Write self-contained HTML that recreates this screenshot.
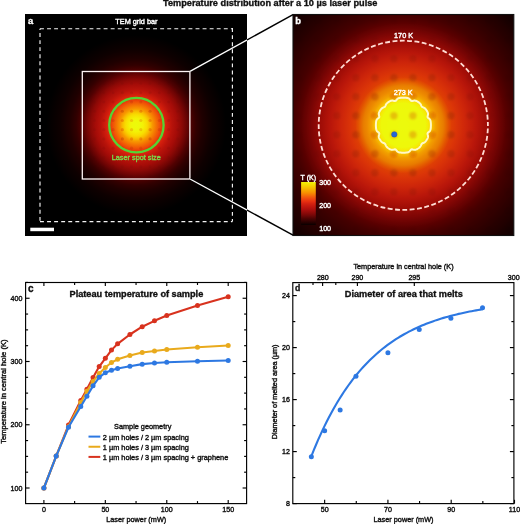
<!DOCTYPE html>
<html><head><meta charset="utf-8"><style>
html,body{margin:0;padding:0;background:#fff;overflow:hidden}
svg{display:block}
text{font-family:"Liberation Sans",Arial,Helvetica,sans-serif;stroke-width:0.38px}
.b{stroke-width:0.34px}

.b{font-weight:bold}
</style></head><body>
<svg width="520" height="524" viewBox="0 0 520 524" fill="#111">
<defs><radialGradient id="ga" gradientUnits="userSpaceOnUse" cx="136.2" cy="125.1" r="90"><stop offset="0.0000" stop-color="#ecfa0c"/><stop offset="0.0111" stop-color="#ecfa0b"/><stop offset="0.0222" stop-color="#edf90a"/><stop offset="0.0333" stop-color="#eef80a"/><stop offset="0.0444" stop-color="#eef809"/><stop offset="0.0556" stop-color="#f0f508"/><stop offset="0.0667" stop-color="#f2f307"/><stop offset="0.0778" stop-color="#f4f006"/><stop offset="0.0889" stop-color="#f5ea04"/><stop offset="0.1000" stop-color="#f6e503"/><stop offset="0.1111" stop-color="#f7e002"/><stop offset="0.1222" stop-color="#f8da00"/><stop offset="0.1333" stop-color="#f8cf00"/><stop offset="0.1444" stop-color="#f8c400"/><stop offset="0.1556" stop-color="#f8b900"/><stop offset="0.1667" stop-color="#f8aa00"/><stop offset="0.1778" stop-color="#f79b00"/><stop offset="0.1889" stop-color="#f69100"/><stop offset="0.2000" stop-color="#f68701"/><stop offset="0.2111" stop-color="#f57d02"/><stop offset="0.2222" stop-color="#f47302"/><stop offset="0.2333" stop-color="#f26904"/><stop offset="0.2444" stop-color="#f15f05"/><stop offset="0.2556" stop-color="#f05506"/><stop offset="0.2667" stop-color="#ee4b08"/><stop offset="0.2778" stop-color="#ea4209"/><stop offset="0.2889" stop-color="#e63909"/><stop offset="0.3000" stop-color="#e2300a"/><stop offset="0.3111" stop-color="#de2b0a"/><stop offset="0.3222" stop-color="#d9260b"/><stop offset="0.3333" stop-color="#d4210c"/><stop offset="0.3444" stop-color="#d01c0c"/><stop offset="0.3556" stop-color="#cb1a0c"/><stop offset="0.3667" stop-color="#c6180b"/><stop offset="0.3778" stop-color="#c0160b"/><stop offset="0.3889" stop-color="#bb140a"/><stop offset="0.4000" stop-color="#b6120a"/><stop offset="0.4111" stop-color="#b2110a"/><stop offset="0.4222" stop-color="#af1009"/><stop offset="0.4333" stop-color="#ab0e09"/><stop offset="0.4444" stop-color="#a80d08"/><stop offset="0.4556" stop-color="#a40c08"/><stop offset="0.4667" stop-color="#9e0b07"/><stop offset="0.4778" stop-color="#990a07"/><stop offset="0.4889" stop-color="#930a06"/><stop offset="0.5000" stop-color="#8e0906"/><stop offset="0.5111" stop-color="#880805"/><stop offset="0.5222" stop-color="#810705"/><stop offset="0.5333" stop-color="#7a0604"/><stop offset="0.5444" stop-color="#740504"/><stop offset="0.5556" stop-color="#6d0403"/><stop offset="0.5667" stop-color="#660303"/><stop offset="0.5778" stop-color="#5f0202"/><stop offset="0.5889" stop-color="#570202"/><stop offset="0.6000" stop-color="#500101"/><stop offset="0.6111" stop-color="#4b0101"/><stop offset="0.6222" stop-color="#460101"/><stop offset="0.6333" stop-color="#410000"/><stop offset="0.6444" stop-color="#3c0000"/><stop offset="0.6556" stop-color="#370000"/><stop offset="0.6667" stop-color="#320000"/><stop offset="0.6778" stop-color="#2f0000"/><stop offset="0.6889" stop-color="#2c0000"/><stop offset="0.7000" stop-color="#290000"/><stop offset="0.7111" stop-color="#260000"/><stop offset="0.7222" stop-color="#230000"/><stop offset="0.7333" stop-color="#200000"/><stop offset="0.7444" stop-color="#1e0000"/><stop offset="0.7556" stop-color="#1c0000"/><stop offset="0.7667" stop-color="#1b0000"/><stop offset="0.7778" stop-color="#190000"/><stop offset="0.7889" stop-color="#170000"/><stop offset="0.8000" stop-color="#150000"/><stop offset="0.8111" stop-color="#130000"/><stop offset="0.8222" stop-color="#120000"/><stop offset="0.8333" stop-color="#100000"/><stop offset="0.8444" stop-color="#0e0000"/><stop offset="0.8556" stop-color="#0d0000"/><stop offset="0.8667" stop-color="#0c0000"/><stop offset="0.8778" stop-color="#0b0000"/><stop offset="0.8889" stop-color="#0a0000"/><stop offset="0.9000" stop-color="#090000"/><stop offset="0.9111" stop-color="#080000"/><stop offset="0.9222" stop-color="#070000"/><stop offset="0.9333" stop-color="#060000"/><stop offset="0.9444" stop-color="#050000"/><stop offset="0.9556" stop-color="#040000"/><stop offset="0.9667" stop-color="#030000"/><stop offset="0.9778" stop-color="#020000"/><stop offset="0.9889" stop-color="#010000"/><stop offset="1.0000" stop-color="#000000"/></radialGradient><radialGradient id="gb" gradientUnits="userSpaceOnUse" cx="403.4" cy="125.2" r="170"><stop offset="0.0000" stop-color="#ecfa0c"/><stop offset="0.0059" stop-color="#ecfa0c"/><stop offset="0.0118" stop-color="#ecfa0c"/><stop offset="0.0176" stop-color="#ecfa0c"/><stop offset="0.0235" stop-color="#ecfa0c"/><stop offset="0.0294" stop-color="#ecfa0c"/><stop offset="0.0353" stop-color="#edf90b"/><stop offset="0.0412" stop-color="#edf90b"/><stop offset="0.0471" stop-color="#edf90b"/><stop offset="0.0529" stop-color="#edf90b"/><stop offset="0.0588" stop-color="#edf90b"/><stop offset="0.0647" stop-color="#edf90b"/><stop offset="0.0706" stop-color="#edf90b"/><stop offset="0.0765" stop-color="#edf90b"/><stop offset="0.0824" stop-color="#edf90b"/><stop offset="0.0882" stop-color="#edf90b"/><stop offset="0.0941" stop-color="#edf90b"/><stop offset="0.1000" stop-color="#eef80a"/><stop offset="0.1059" stop-color="#eef80a"/><stop offset="0.1118" stop-color="#eef80a"/><stop offset="0.1176" stop-color="#eef80a"/><stop offset="0.1235" stop-color="#eef80a"/><stop offset="0.1294" stop-color="#eef80a"/><stop offset="0.1353" stop-color="#f0f308"/><stop offset="0.1412" stop-color="#f3ef07"/><stop offset="0.1471" stop-color="#f5ea05"/><stop offset="0.1529" stop-color="#f6e203"/><stop offset="0.1588" stop-color="#f7d502"/><stop offset="0.1647" stop-color="#f8c800"/><stop offset="0.1706" stop-color="#f6be00"/><stop offset="0.1765" stop-color="#f5b500"/><stop offset="0.1824" stop-color="#f4ac00"/><stop offset="0.1882" stop-color="#f2a200"/><stop offset="0.1941" stop-color="#f19c00"/><stop offset="0.2000" stop-color="#f09700"/><stop offset="0.2059" stop-color="#ef9200"/><stop offset="0.2118" stop-color="#ee8c00"/><stop offset="0.2176" stop-color="#ec8800"/><stop offset="0.2235" stop-color="#eb8400"/><stop offset="0.2294" stop-color="#ea8000"/><stop offset="0.2353" stop-color="#e87c00"/><stop offset="0.2412" stop-color="#e77400"/><stop offset="0.2471" stop-color="#e66c00"/><stop offset="0.2529" stop-color="#e56400"/><stop offset="0.2588" stop-color="#e45c00"/><stop offset="0.2647" stop-color="#e25401"/><stop offset="0.2706" stop-color="#e14d02"/><stop offset="0.2765" stop-color="#e04603"/><stop offset="0.2824" stop-color="#de3e04"/><stop offset="0.2882" stop-color="#dd3c05"/><stop offset="0.2941" stop-color="#dc3a06"/><stop offset="0.3000" stop-color="#dc3806"/><stop offset="0.3059" stop-color="#db3607"/><stop offset="0.3118" stop-color="#da3408"/><stop offset="0.3176" stop-color="#d93208"/><stop offset="0.3235" stop-color="#d73108"/><stop offset="0.3294" stop-color="#d62f09"/><stop offset="0.3353" stop-color="#d42e09"/><stop offset="0.3412" stop-color="#d32c09"/><stop offset="0.3471" stop-color="#d22a09"/><stop offset="0.3529" stop-color="#d02909"/><stop offset="0.3588" stop-color="#cf270a"/><stop offset="0.3647" stop-color="#cd260a"/><stop offset="0.3706" stop-color="#cc240a"/><stop offset="0.3765" stop-color="#ca230a"/><stop offset="0.3824" stop-color="#c8210a"/><stop offset="0.3882" stop-color="#c6200a"/><stop offset="0.3941" stop-color="#c41e0a"/><stop offset="0.4000" stop-color="#c21d0a"/><stop offset="0.4059" stop-color="#c01c0a"/><stop offset="0.4118" stop-color="#be1a0a"/><stop offset="0.4176" stop-color="#bc190a"/><stop offset="0.4235" stop-color="#ba170a"/><stop offset="0.4294" stop-color="#b8160a"/><stop offset="0.4353" stop-color="#b5150a"/><stop offset="0.4412" stop-color="#b31409"/><stop offset="0.4471" stop-color="#b01309"/><stop offset="0.4529" stop-color="#ae1208"/><stop offset="0.4588" stop-color="#ab1108"/><stop offset="0.4647" stop-color="#a81008"/><stop offset="0.4706" stop-color="#a60f07"/><stop offset="0.4765" stop-color="#a30e07"/><stop offset="0.4824" stop-color="#a10d06"/><stop offset="0.4882" stop-color="#9e0c06"/><stop offset="0.4941" stop-color="#9a0b06"/><stop offset="0.5000" stop-color="#970b06"/><stop offset="0.5059" stop-color="#930a05"/><stop offset="0.5118" stop-color="#900905"/><stop offset="0.5176" stop-color="#8c0805"/><stop offset="0.5235" stop-color="#880805"/><stop offset="0.5294" stop-color="#850705"/><stop offset="0.5353" stop-color="#810604"/><stop offset="0.5412" stop-color="#7e0604"/><stop offset="0.5471" stop-color="#7a0504"/><stop offset="0.5529" stop-color="#770404"/><stop offset="0.5588" stop-color="#730403"/><stop offset="0.5647" stop-color="#700403"/><stop offset="0.5706" stop-color="#6c0302"/><stop offset="0.5765" stop-color="#690202"/><stop offset="0.5824" stop-color="#660202"/><stop offset="0.5882" stop-color="#620201"/><stop offset="0.5941" stop-color="#5f0101"/><stop offset="0.6000" stop-color="#5b0000"/><stop offset="0.6059" stop-color="#580000"/><stop offset="0.6118" stop-color="#550000"/><stop offset="0.6176" stop-color="#530000"/><stop offset="0.6235" stop-color="#500000"/><stop offset="0.6294" stop-color="#4e0000"/><stop offset="0.6353" stop-color="#4b0000"/><stop offset="0.6412" stop-color="#490000"/><stop offset="0.6471" stop-color="#460000"/><stop offset="0.6529" stop-color="#450000"/><stop offset="0.6588" stop-color="#430000"/><stop offset="0.6647" stop-color="#420000"/><stop offset="0.6706" stop-color="#400000"/><stop offset="0.6765" stop-color="#3f0000"/><stop offset="0.6824" stop-color="#3e0000"/><stop offset="0.6882" stop-color="#3c0000"/><stop offset="0.6941" stop-color="#3b0000"/><stop offset="0.7000" stop-color="#390000"/><stop offset="0.7059" stop-color="#380000"/><stop offset="0.7118" stop-color="#370000"/><stop offset="0.7176" stop-color="#360000"/><stop offset="0.7235" stop-color="#340000"/><stop offset="0.7294" stop-color="#330000"/><stop offset="0.7353" stop-color="#320000"/><stop offset="0.7412" stop-color="#310000"/><stop offset="0.7471" stop-color="#300000"/><stop offset="0.7529" stop-color="#2e0000"/><stop offset="0.7588" stop-color="#2d0000"/><stop offset="0.7647" stop-color="#2c0000"/><stop offset="0.7706" stop-color="#2b0000"/><stop offset="0.7765" stop-color="#2a0000"/><stop offset="0.7824" stop-color="#280000"/><stop offset="0.7882" stop-color="#270000"/><stop offset="0.7941" stop-color="#260000"/><stop offset="0.8000" stop-color="#250000"/><stop offset="0.8059" stop-color="#240000"/><stop offset="0.8118" stop-color="#230000"/><stop offset="0.8176" stop-color="#220000"/><stop offset="0.8235" stop-color="#210000"/><stop offset="0.8294" stop-color="#200000"/><stop offset="0.8353" stop-color="#1f0000"/><stop offset="0.8412" stop-color="#1d0000"/><stop offset="0.8471" stop-color="#1c0000"/><stop offset="0.8529" stop-color="#1b0000"/><stop offset="0.8588" stop-color="#1a0000"/><stop offset="0.8647" stop-color="#190000"/><stop offset="0.8706" stop-color="#180000"/><stop offset="0.8765" stop-color="#170000"/><stop offset="0.8824" stop-color="#160000"/><stop offset="0.8882" stop-color="#150000"/><stop offset="0.8941" stop-color="#150000"/><stop offset="0.9000" stop-color="#140000"/><stop offset="0.9059" stop-color="#140000"/><stop offset="0.9118" stop-color="#130000"/><stop offset="0.9176" stop-color="#120000"/><stop offset="0.9235" stop-color="#120000"/><stop offset="0.9294" stop-color="#110000"/><stop offset="0.9353" stop-color="#110000"/><stop offset="0.9412" stop-color="#100000"/><stop offset="0.9471" stop-color="#0f0000"/><stop offset="0.9529" stop-color="#0f0000"/><stop offset="0.9588" stop-color="#0e0000"/><stop offset="0.9647" stop-color="#0e0000"/><stop offset="0.9706" stop-color="#0d0000"/><stop offset="0.9765" stop-color="#0c0000"/><stop offset="0.9824" stop-color="#0c0000"/><stop offset="0.9882" stop-color="#0b0000"/><stop offset="0.9941" stop-color="#0b0000"/><stop offset="1.0000" stop-color="#0a0000"/></radialGradient><linearGradient id="gcb" x1="0" y1="0" x2="0" y2="1"><stop offset="0.000" stop-color="#f0f505"/><stop offset="0.050" stop-color="#f6e100"/><stop offset="0.100" stop-color="#f7cd00"/><stop offset="0.150" stop-color="#f8b900"/><stop offset="0.200" stop-color="#f8a400"/><stop offset="0.250" stop-color="#f89000"/><stop offset="0.300" stop-color="#f67506"/><stop offset="0.350" stop-color="#f35b0c"/><stop offset="0.400" stop-color="#ee440f"/><stop offset="0.450" stop-color="#e83010"/><stop offset="0.500" stop-color="#d62310"/><stop offset="0.550" stop-color="#c71a0f"/><stop offset="0.600" stop-color="#b9130e"/><stop offset="0.650" stop-color="#a80e0d"/><stop offset="0.700" stop-color="#940b0a"/><stop offset="0.750" stop-color="#800808"/><stop offset="0.800" stop-color="#670606"/><stop offset="0.850" stop-color="#4e0303"/><stop offset="0.900" stop-color="#380202"/><stop offset="0.950" stop-color="#220000"/><stop offset="1.000" stop-color="#080000"/></linearGradient><filter id="bla" x="-50%" y="-50%" width="200%" height="200%"><feGaussianBlur stdDeviation="0.6"/></filter><filter id="blb" x="-50%" y="-50%" width="200%" height="200%"><feGaussianBlur stdDeviation="1.3"/></filter><clipPath id="cpa"><rect x="25" y="14" width="222" height="222"/></clipPath><clipPath id="cpb"><rect x="293" y="14.5" width="220.8" height="221"/></clipPath></defs>
<text x="163" y="6.4" class="b" font-size="9.2" stroke="#111">Temperature distribution after a 10 µs laser pulse</text>
<rect x="25" y="14" width="222" height="222" fill="#000"/>
<circle cx="136.2" cy="125.1" r="90" fill="url(#ga)" clip-path="url(#cpa)"/>
<g filter="url(#bla)"><circle cx="66.88" cy="120.48" r="1.6" fill="#000" fill-opacity="0.022"/><circle cx="66.88" cy="129.72" r="1.6" fill="#000" fill-opacity="0.022"/><circle cx="76.12" cy="92.75" r="1.6" fill="#000" fill-opacity="0.022"/><circle cx="76.12" cy="101.99" r="1.6" fill="#000" fill-opacity="0.022"/><circle cx="76.12" cy="111.24" r="1.6" fill="#000" fill-opacity="0.022"/><circle cx="76.12" cy="120.48" r="1.6" fill="#000" fill-opacity="0.022"/><circle cx="76.12" cy="129.72" r="1.6" fill="#000" fill-opacity="0.022"/><circle cx="76.12" cy="138.96" r="1.6" fill="#000" fill-opacity="0.022"/><circle cx="76.12" cy="148.21" r="1.6" fill="#000" fill-opacity="0.022"/><circle cx="76.12" cy="157.45" r="1.6" fill="#000" fill-opacity="0.022"/><circle cx="85.36" cy="83.51" r="1.6" fill="#000" fill-opacity="0.022"/><circle cx="85.36" cy="92.75" r="1.6" fill="#000" fill-opacity="0.022"/><circle cx="85.36" cy="101.99" r="1.6" fill="#000" fill-opacity="0.022"/><circle cx="85.36" cy="111.24" r="1.6" fill="#000" fill-opacity="0.022"/><circle cx="85.36" cy="120.48" r="1.6" fill="#000" fill-opacity="0.022"/><circle cx="85.36" cy="129.72" r="1.6" fill="#000" fill-opacity="0.022"/><circle cx="85.36" cy="138.96" r="1.6" fill="#000" fill-opacity="0.022"/><circle cx="85.36" cy="148.21" r="1.6" fill="#000" fill-opacity="0.022"/><circle cx="85.36" cy="157.45" r="1.6" fill="#000" fill-opacity="0.022"/><circle cx="85.36" cy="166.69" r="1.6" fill="#000" fill-opacity="0.022"/><circle cx="94.61" cy="74.26" r="1.6" fill="#000" fill-opacity="0.022"/><circle cx="94.61" cy="83.51" r="1.6" fill="#000" fill-opacity="0.022"/><circle cx="94.61" cy="92.75" r="1.6" fill="#000" fill-opacity="0.022"/><circle cx="94.61" cy="101.99" r="1.6" fill="#000" fill-opacity="0.027"/><circle cx="94.61" cy="111.24" r="1.6" fill="#000" fill-opacity="0.040"/><circle cx="94.61" cy="120.48" r="1.6" fill="#000" fill-opacity="0.045"/><circle cx="94.61" cy="129.72" r="1.6" fill="#000" fill-opacity="0.045"/><circle cx="94.61" cy="138.96" r="1.6" fill="#000" fill-opacity="0.040"/><circle cx="94.61" cy="148.21" r="1.6" fill="#000" fill-opacity="0.027"/><circle cx="94.61" cy="157.45" r="1.6" fill="#000" fill-opacity="0.022"/><circle cx="94.61" cy="166.69" r="1.6" fill="#000" fill-opacity="0.022"/><circle cx="94.61" cy="175.94" r="1.6" fill="#000" fill-opacity="0.022"/><circle cx="103.85" cy="65.02" r="1.6" fill="#000" fill-opacity="0.022"/><circle cx="103.85" cy="74.26" r="1.6" fill="#000" fill-opacity="0.022"/><circle cx="103.85" cy="83.51" r="1.6" fill="#000" fill-opacity="0.022"/><circle cx="103.85" cy="92.75" r="1.6" fill="#000" fill-opacity="0.034"/><circle cx="103.85" cy="101.99" r="1.6" fill="#000" fill-opacity="0.050"/><circle cx="103.85" cy="111.24" r="1.6" fill="#000" fill-opacity="0.062"/><circle cx="103.85" cy="120.48" r="1.6" fill="#000" fill-opacity="0.069"/><circle cx="103.85" cy="129.72" r="1.6" fill="#000" fill-opacity="0.069"/><circle cx="103.85" cy="138.96" r="1.6" fill="#000" fill-opacity="0.062"/><circle cx="103.85" cy="148.21" r="1.6" fill="#000" fill-opacity="0.050"/><circle cx="103.85" cy="157.45" r="1.6" fill="#000" fill-opacity="0.034"/><circle cx="103.85" cy="166.69" r="1.6" fill="#000" fill-opacity="0.022"/><circle cx="103.85" cy="175.94" r="1.6" fill="#000" fill-opacity="0.022"/><circle cx="103.85" cy="185.18" r="1.6" fill="#000" fill-opacity="0.022"/><circle cx="113.09" cy="65.02" r="1.6" fill="#000" fill-opacity="0.022"/><circle cx="113.09" cy="74.26" r="1.6" fill="#000" fill-opacity="0.022"/><circle cx="113.09" cy="83.51" r="1.6" fill="#000" fill-opacity="0.027"/><circle cx="113.09" cy="92.75" r="1.6" fill="#000" fill-opacity="0.050"/><circle cx="113.09" cy="101.99" r="1.6" fill="#000" fill-opacity="0.069"/><circle cx="113.09" cy="111.24" r="1.6" fill="#000" fill-opacity="0.090"/><circle cx="113.09" cy="120.48" r="1.6" fill="#800000" fill-opacity="0.132"/><circle cx="113.09" cy="129.72" r="1.6" fill="#800000" fill-opacity="0.132"/><circle cx="113.09" cy="138.96" r="1.6" fill="#000" fill-opacity="0.090"/><circle cx="113.09" cy="148.21" r="1.6" fill="#000" fill-opacity="0.069"/><circle cx="113.09" cy="157.45" r="1.6" fill="#000" fill-opacity="0.050"/><circle cx="113.09" cy="166.69" r="1.6" fill="#000" fill-opacity="0.027"/><circle cx="113.09" cy="175.94" r="1.6" fill="#000" fill-opacity="0.022"/><circle cx="113.09" cy="185.18" r="1.6" fill="#000" fill-opacity="0.022"/><circle cx="122.34" cy="65.02" r="1.6" fill="#000" fill-opacity="0.022"/><circle cx="122.34" cy="74.26" r="1.6" fill="#000" fill-opacity="0.022"/><circle cx="122.34" cy="83.51" r="1.6" fill="#000" fill-opacity="0.040"/><circle cx="122.34" cy="92.75" r="1.6" fill="#000" fill-opacity="0.062"/><circle cx="122.34" cy="101.99" r="1.6" fill="#000" fill-opacity="0.090"/><circle cx="122.34" cy="111.24" r="1.6" fill="#800000" fill-opacity="0.212"/><circle cx="122.34" cy="120.48" r="1.6" fill="#c81800" fill-opacity="0.225"/><circle cx="122.34" cy="129.72" r="1.6" fill="#c81800" fill-opacity="0.225"/><circle cx="122.34" cy="138.96" r="1.6" fill="#800000" fill-opacity="0.212"/><circle cx="122.34" cy="148.21" r="1.6" fill="#000" fill-opacity="0.090"/><circle cx="122.34" cy="157.45" r="1.6" fill="#000" fill-opacity="0.062"/><circle cx="122.34" cy="166.69" r="1.6" fill="#000" fill-opacity="0.040"/><circle cx="122.34" cy="175.94" r="1.6" fill="#000" fill-opacity="0.022"/><circle cx="122.34" cy="185.18" r="1.6" fill="#000" fill-opacity="0.022"/><circle cx="131.58" cy="55.78" r="1.6" fill="#000" fill-opacity="0.022"/><circle cx="131.58" cy="65.02" r="1.6" fill="#000" fill-opacity="0.022"/><circle cx="131.58" cy="74.26" r="1.6" fill="#000" fill-opacity="0.022"/><circle cx="131.58" cy="83.51" r="1.6" fill="#000" fill-opacity="0.045"/><circle cx="131.58" cy="92.75" r="1.6" fill="#000" fill-opacity="0.069"/><circle cx="131.58" cy="101.99" r="1.6" fill="#800000" fill-opacity="0.132"/><circle cx="131.58" cy="111.24" r="1.6" fill="#c81800" fill-opacity="0.225"/><circle cx="131.58" cy="120.48" r="1.6" fill="#c81800" fill-opacity="0.169"/><circle cx="131.58" cy="129.72" r="1.6" fill="#c81800" fill-opacity="0.169"/><circle cx="131.58" cy="138.96" r="1.6" fill="#c81800" fill-opacity="0.225"/><circle cx="131.58" cy="148.21" r="1.6" fill="#800000" fill-opacity="0.132"/><circle cx="131.58" cy="157.45" r="1.6" fill="#000" fill-opacity="0.069"/><circle cx="131.58" cy="166.69" r="1.6" fill="#000" fill-opacity="0.045"/><circle cx="131.58" cy="175.94" r="1.6" fill="#000" fill-opacity="0.022"/><circle cx="131.58" cy="185.18" r="1.6" fill="#000" fill-opacity="0.022"/><circle cx="131.58" cy="194.42" r="1.6" fill="#000" fill-opacity="0.022"/><circle cx="140.82" cy="55.78" r="1.6" fill="#000" fill-opacity="0.022"/><circle cx="140.82" cy="65.02" r="1.6" fill="#000" fill-opacity="0.022"/><circle cx="140.82" cy="74.26" r="1.6" fill="#000" fill-opacity="0.022"/><circle cx="140.82" cy="83.51" r="1.6" fill="#000" fill-opacity="0.045"/><circle cx="140.82" cy="92.75" r="1.6" fill="#000" fill-opacity="0.069"/><circle cx="140.82" cy="101.99" r="1.6" fill="#800000" fill-opacity="0.132"/><circle cx="140.82" cy="111.24" r="1.6" fill="#c81800" fill-opacity="0.225"/><circle cx="140.82" cy="120.48" r="1.6" fill="#c81800" fill-opacity="0.169"/><circle cx="140.82" cy="129.72" r="1.6" fill="#c81800" fill-opacity="0.169"/><circle cx="140.82" cy="138.96" r="1.6" fill="#c81800" fill-opacity="0.225"/><circle cx="140.82" cy="148.21" r="1.6" fill="#800000" fill-opacity="0.132"/><circle cx="140.82" cy="157.45" r="1.6" fill="#000" fill-opacity="0.069"/><circle cx="140.82" cy="166.69" r="1.6" fill="#000" fill-opacity="0.045"/><circle cx="140.82" cy="175.94" r="1.6" fill="#000" fill-opacity="0.022"/><circle cx="140.82" cy="185.18" r="1.6" fill="#000" fill-opacity="0.022"/><circle cx="140.82" cy="194.42" r="1.6" fill="#000" fill-opacity="0.022"/><circle cx="150.06" cy="65.02" r="1.6" fill="#000" fill-opacity="0.022"/><circle cx="150.06" cy="74.26" r="1.6" fill="#000" fill-opacity="0.022"/><circle cx="150.06" cy="83.51" r="1.6" fill="#000" fill-opacity="0.040"/><circle cx="150.06" cy="92.75" r="1.6" fill="#000" fill-opacity="0.062"/><circle cx="150.06" cy="101.99" r="1.6" fill="#000" fill-opacity="0.090"/><circle cx="150.06" cy="111.24" r="1.6" fill="#800000" fill-opacity="0.212"/><circle cx="150.06" cy="120.48" r="1.6" fill="#c81800" fill-opacity="0.225"/><circle cx="150.06" cy="129.72" r="1.6" fill="#c81800" fill-opacity="0.225"/><circle cx="150.06" cy="138.96" r="1.6" fill="#800000" fill-opacity="0.212"/><circle cx="150.06" cy="148.21" r="1.6" fill="#000" fill-opacity="0.090"/><circle cx="150.06" cy="157.45" r="1.6" fill="#000" fill-opacity="0.062"/><circle cx="150.06" cy="166.69" r="1.6" fill="#000" fill-opacity="0.040"/><circle cx="150.06" cy="175.94" r="1.6" fill="#000" fill-opacity="0.022"/><circle cx="150.06" cy="185.18" r="1.6" fill="#000" fill-opacity="0.022"/><circle cx="159.31" cy="65.02" r="1.6" fill="#000" fill-opacity="0.022"/><circle cx="159.31" cy="74.26" r="1.6" fill="#000" fill-opacity="0.022"/><circle cx="159.31" cy="83.51" r="1.6" fill="#000" fill-opacity="0.027"/><circle cx="159.31" cy="92.75" r="1.6" fill="#000" fill-opacity="0.050"/><circle cx="159.31" cy="101.99" r="1.6" fill="#000" fill-opacity="0.069"/><circle cx="159.31" cy="111.24" r="1.6" fill="#000" fill-opacity="0.090"/><circle cx="159.31" cy="120.48" r="1.6" fill="#800000" fill-opacity="0.132"/><circle cx="159.31" cy="129.72" r="1.6" fill="#800000" fill-opacity="0.132"/><circle cx="159.31" cy="138.96" r="1.6" fill="#000" fill-opacity="0.090"/><circle cx="159.31" cy="148.21" r="1.6" fill="#000" fill-opacity="0.069"/><circle cx="159.31" cy="157.45" r="1.6" fill="#000" fill-opacity="0.050"/><circle cx="159.31" cy="166.69" r="1.6" fill="#000" fill-opacity="0.027"/><circle cx="159.31" cy="175.94" r="1.6" fill="#000" fill-opacity="0.022"/><circle cx="159.31" cy="185.18" r="1.6" fill="#000" fill-opacity="0.022"/><circle cx="168.55" cy="65.02" r="1.6" fill="#000" fill-opacity="0.022"/><circle cx="168.55" cy="74.26" r="1.6" fill="#000" fill-opacity="0.022"/><circle cx="168.55" cy="83.51" r="1.6" fill="#000" fill-opacity="0.022"/><circle cx="168.55" cy="92.75" r="1.6" fill="#000" fill-opacity="0.034"/><circle cx="168.55" cy="101.99" r="1.6" fill="#000" fill-opacity="0.050"/><circle cx="168.55" cy="111.24" r="1.6" fill="#000" fill-opacity="0.062"/><circle cx="168.55" cy="120.48" r="1.6" fill="#000" fill-opacity="0.069"/><circle cx="168.55" cy="129.72" r="1.6" fill="#000" fill-opacity="0.069"/><circle cx="168.55" cy="138.96" r="1.6" fill="#000" fill-opacity="0.062"/><circle cx="168.55" cy="148.21" r="1.6" fill="#000" fill-opacity="0.050"/><circle cx="168.55" cy="157.45" r="1.6" fill="#000" fill-opacity="0.034"/><circle cx="168.55" cy="166.69" r="1.6" fill="#000" fill-opacity="0.022"/><circle cx="168.55" cy="175.94" r="1.6" fill="#000" fill-opacity="0.022"/><circle cx="168.55" cy="185.18" r="1.6" fill="#000" fill-opacity="0.022"/><circle cx="177.79" cy="74.26" r="1.6" fill="#000" fill-opacity="0.022"/><circle cx="177.79" cy="83.51" r="1.6" fill="#000" fill-opacity="0.022"/><circle cx="177.79" cy="92.75" r="1.6" fill="#000" fill-opacity="0.022"/><circle cx="177.79" cy="101.99" r="1.6" fill="#000" fill-opacity="0.027"/><circle cx="177.79" cy="111.24" r="1.6" fill="#000" fill-opacity="0.040"/><circle cx="177.79" cy="120.48" r="1.6" fill="#000" fill-opacity="0.045"/><circle cx="177.79" cy="129.72" r="1.6" fill="#000" fill-opacity="0.045"/><circle cx="177.79" cy="138.96" r="1.6" fill="#000" fill-opacity="0.040"/><circle cx="177.79" cy="148.21" r="1.6" fill="#000" fill-opacity="0.027"/><circle cx="177.79" cy="157.45" r="1.6" fill="#000" fill-opacity="0.022"/><circle cx="177.79" cy="166.69" r="1.6" fill="#000" fill-opacity="0.022"/><circle cx="177.79" cy="175.94" r="1.6" fill="#000" fill-opacity="0.022"/><circle cx="187.04" cy="83.51" r="1.6" fill="#000" fill-opacity="0.022"/><circle cx="187.04" cy="92.75" r="1.6" fill="#000" fill-opacity="0.022"/><circle cx="187.04" cy="101.99" r="1.6" fill="#000" fill-opacity="0.022"/><circle cx="187.04" cy="111.24" r="1.6" fill="#000" fill-opacity="0.022"/><circle cx="187.04" cy="120.48" r="1.6" fill="#000" fill-opacity="0.022"/><circle cx="187.04" cy="129.72" r="1.6" fill="#000" fill-opacity="0.022"/><circle cx="187.04" cy="138.96" r="1.6" fill="#000" fill-opacity="0.022"/><circle cx="187.04" cy="148.21" r="1.6" fill="#000" fill-opacity="0.022"/><circle cx="187.04" cy="157.45" r="1.6" fill="#000" fill-opacity="0.022"/><circle cx="187.04" cy="166.69" r="1.6" fill="#000" fill-opacity="0.022"/><circle cx="196.28" cy="92.75" r="1.6" fill="#000" fill-opacity="0.022"/><circle cx="196.28" cy="101.99" r="1.6" fill="#000" fill-opacity="0.022"/><circle cx="196.28" cy="111.24" r="1.6" fill="#000" fill-opacity="0.022"/><circle cx="196.28" cy="120.48" r="1.6" fill="#000" fill-opacity="0.022"/><circle cx="196.28" cy="129.72" r="1.6" fill="#000" fill-opacity="0.022"/><circle cx="196.28" cy="138.96" r="1.6" fill="#000" fill-opacity="0.022"/><circle cx="196.28" cy="148.21" r="1.6" fill="#000" fill-opacity="0.022"/><circle cx="196.28" cy="157.45" r="1.6" fill="#000" fill-opacity="0.022"/><circle cx="205.52" cy="120.48" r="1.6" fill="#000" fill-opacity="0.022"/><circle cx="205.52" cy="129.72" r="1.6" fill="#000" fill-opacity="0.022"/></g>
<g fill="none" stroke="#f4f4f4" stroke-width="1.15" stroke-dasharray="3.9 3.17"><path d="M40,28.7H232.4"/><path d="M232.4,28.1V221.6"/><path d="M40,221.6H232.4"/><path d="M40,221.6V28.7" stroke-dashoffset="-0.8"/></g>
<rect x="82.3" y="71.5" width="107.6" height="107.5" fill="none" stroke="#fff4f4" stroke-width="1.3"/>
<circle cx="136.4" cy="125.1" r="27.2" fill="none" stroke="#55d434" stroke-width="2.3"/>
<text x="136.3" y="160.3" fill="#7ada4a" font-size="7.3" text-anchor="middle" stroke="#7ada4a">Laser spot size</text>
<text x="136.4" y="24.3" fill="#fff" font-size="7.3" text-anchor="middle" stroke="#fff">TEM grid bar</text>
<text x="28" y="23.9" fill="#fff" class="b" font-size="9.4" stroke="#fff">a</text>
<rect x="30.3" y="227.7" width="23.7" height="3.5" fill="#fff"/>
<rect x="293" y="14.5" width="220.8" height="221" fill="url(#gb)"/>
<g filter="url(#blb)" clip-path="url(#cpb)"><circle cx="260.90" cy="-17.30" r="3.7" fill="#000" fill-opacity="0.030"/><circle cx="260.90" cy="1.70" r="3.7" fill="#000" fill-opacity="0.030"/><circle cx="260.90" cy="20.70" r="3.7" fill="#000" fill-opacity="0.030"/><circle cx="260.90" cy="39.70" r="3.7" fill="#000" fill-opacity="0.030"/><circle cx="260.90" cy="58.70" r="3.7" fill="#000" fill-opacity="0.030"/><circle cx="260.90" cy="77.70" r="3.7" fill="#000" fill-opacity="0.030"/><circle cx="260.90" cy="96.70" r="3.7" fill="#000" fill-opacity="0.030"/><circle cx="260.90" cy="115.70" r="3.7" fill="#000" fill-opacity="0.030"/><circle cx="260.90" cy="134.70" r="3.7" fill="#000" fill-opacity="0.030"/><circle cx="260.90" cy="153.70" r="3.7" fill="#000" fill-opacity="0.030"/><circle cx="260.90" cy="172.70" r="3.7" fill="#000" fill-opacity="0.030"/><circle cx="260.90" cy="191.70" r="3.7" fill="#000" fill-opacity="0.030"/><circle cx="260.90" cy="210.70" r="3.7" fill="#000" fill-opacity="0.030"/><circle cx="260.90" cy="229.70" r="3.7" fill="#000" fill-opacity="0.030"/><circle cx="260.90" cy="248.70" r="3.7" fill="#000" fill-opacity="0.030"/><circle cx="260.90" cy="267.70" r="3.7" fill="#000" fill-opacity="0.030"/><circle cx="279.90" cy="-17.30" r="3.7" fill="#000" fill-opacity="0.030"/><circle cx="279.90" cy="1.70" r="3.7" fill="#000" fill-opacity="0.030"/><circle cx="279.90" cy="20.70" r="3.7" fill="#000" fill-opacity="0.030"/><circle cx="279.90" cy="39.70" r="3.7" fill="#000" fill-opacity="0.030"/><circle cx="279.90" cy="58.70" r="3.7" fill="#000" fill-opacity="0.030"/><circle cx="279.90" cy="77.70" r="3.7" fill="#000" fill-opacity="0.030"/><circle cx="279.90" cy="96.70" r="3.7" fill="#000" fill-opacity="0.030"/><circle cx="279.90" cy="115.70" r="3.7" fill="#000" fill-opacity="0.030"/><circle cx="279.90" cy="134.70" r="3.7" fill="#000" fill-opacity="0.030"/><circle cx="279.90" cy="153.70" r="3.7" fill="#000" fill-opacity="0.030"/><circle cx="279.90" cy="172.70" r="3.7" fill="#000" fill-opacity="0.030"/><circle cx="279.90" cy="191.70" r="3.7" fill="#000" fill-opacity="0.030"/><circle cx="279.90" cy="210.70" r="3.7" fill="#000" fill-opacity="0.030"/><circle cx="279.90" cy="229.70" r="3.7" fill="#000" fill-opacity="0.030"/><circle cx="279.90" cy="248.70" r="3.7" fill="#000" fill-opacity="0.030"/><circle cx="279.90" cy="267.70" r="3.7" fill="#000" fill-opacity="0.030"/><circle cx="298.90" cy="-17.30" r="3.7" fill="#000" fill-opacity="0.030"/><circle cx="298.90" cy="1.70" r="3.7" fill="#000" fill-opacity="0.030"/><circle cx="298.90" cy="20.70" r="3.7" fill="#000" fill-opacity="0.030"/><circle cx="298.90" cy="39.70" r="3.7" fill="#000" fill-opacity="0.030"/><circle cx="298.90" cy="58.70" r="3.7" fill="#000" fill-opacity="0.030"/><circle cx="298.90" cy="77.70" r="3.7" fill="#000" fill-opacity="0.030"/><circle cx="298.90" cy="96.70" r="3.7" fill="#000" fill-opacity="0.030"/><circle cx="298.90" cy="115.70" r="3.7" fill="#000" fill-opacity="0.030"/><circle cx="298.90" cy="134.70" r="3.7" fill="#000" fill-opacity="0.030"/><circle cx="298.90" cy="153.70" r="3.7" fill="#000" fill-opacity="0.030"/><circle cx="298.90" cy="172.70" r="3.7" fill="#000" fill-opacity="0.030"/><circle cx="298.90" cy="191.70" r="3.7" fill="#000" fill-opacity="0.030"/><circle cx="298.90" cy="210.70" r="3.7" fill="#000" fill-opacity="0.030"/><circle cx="298.90" cy="229.70" r="3.7" fill="#000" fill-opacity="0.030"/><circle cx="298.90" cy="248.70" r="3.7" fill="#000" fill-opacity="0.030"/><circle cx="298.90" cy="267.70" r="3.7" fill="#000" fill-opacity="0.030"/><circle cx="317.90" cy="-17.30" r="3.7" fill="#000" fill-opacity="0.030"/><circle cx="317.90" cy="1.70" r="3.7" fill="#000" fill-opacity="0.030"/><circle cx="317.90" cy="20.70" r="3.7" fill="#000" fill-opacity="0.030"/><circle cx="317.90" cy="39.70" r="3.7" fill="#000" fill-opacity="0.030"/><circle cx="317.90" cy="58.70" r="3.7" fill="#000" fill-opacity="0.030"/><circle cx="317.90" cy="77.70" r="3.7" fill="#000" fill-opacity="0.030"/><circle cx="317.90" cy="96.70" r="3.7" fill="#000" fill-opacity="0.030"/><circle cx="317.90" cy="115.70" r="3.7" fill="#000" fill-opacity="0.035"/><circle cx="317.90" cy="134.70" r="3.7" fill="#000" fill-opacity="0.035"/><circle cx="317.90" cy="153.70" r="3.7" fill="#000" fill-opacity="0.030"/><circle cx="317.90" cy="172.70" r="3.7" fill="#000" fill-opacity="0.030"/><circle cx="317.90" cy="191.70" r="3.7" fill="#000" fill-opacity="0.030"/><circle cx="317.90" cy="210.70" r="3.7" fill="#000" fill-opacity="0.030"/><circle cx="317.90" cy="229.70" r="3.7" fill="#000" fill-opacity="0.030"/><circle cx="317.90" cy="248.70" r="3.7" fill="#000" fill-opacity="0.030"/><circle cx="317.90" cy="267.70" r="3.7" fill="#000" fill-opacity="0.030"/><circle cx="336.90" cy="-17.30" r="3.7" fill="#000" fill-opacity="0.030"/><circle cx="336.90" cy="1.70" r="3.7" fill="#000" fill-opacity="0.030"/><circle cx="336.90" cy="20.70" r="3.7" fill="#000" fill-opacity="0.030"/><circle cx="336.90" cy="39.70" r="3.7" fill="#000" fill-opacity="0.030"/><circle cx="336.90" cy="58.70" r="3.7" fill="#000" fill-opacity="0.030"/><circle cx="336.90" cy="77.70" r="3.7" fill="#000" fill-opacity="0.044"/><circle cx="336.90" cy="96.70" r="3.7" fill="#000" fill-opacity="0.066"/><circle cx="336.90" cy="115.70" r="3.7" fill="#000" fill-opacity="0.078"/><circle cx="336.90" cy="134.70" r="3.7" fill="#000" fill-opacity="0.078"/><circle cx="336.90" cy="153.70" r="3.7" fill="#000" fill-opacity="0.066"/><circle cx="336.90" cy="172.70" r="3.7" fill="#000" fill-opacity="0.044"/><circle cx="336.90" cy="191.70" r="3.7" fill="#000" fill-opacity="0.030"/><circle cx="336.90" cy="210.70" r="3.7" fill="#000" fill-opacity="0.030"/><circle cx="336.90" cy="229.70" r="3.7" fill="#000" fill-opacity="0.030"/><circle cx="336.90" cy="248.70" r="3.7" fill="#000" fill-opacity="0.030"/><circle cx="336.90" cy="267.70" r="3.7" fill="#000" fill-opacity="0.030"/><circle cx="355.90" cy="-17.30" r="3.7" fill="#000" fill-opacity="0.030"/><circle cx="355.90" cy="1.70" r="3.7" fill="#000" fill-opacity="0.030"/><circle cx="355.90" cy="20.70" r="3.7" fill="#000" fill-opacity="0.030"/><circle cx="355.90" cy="39.70" r="3.7" fill="#000" fill-opacity="0.030"/><circle cx="355.90" cy="58.70" r="3.7" fill="#000" fill-opacity="0.044"/><circle cx="355.90" cy="77.70" r="3.7" fill="#000" fill-opacity="0.078"/><circle cx="355.90" cy="96.70" r="3.7" fill="#000" fill-opacity="0.104"/><circle cx="355.90" cy="115.70" r="3.7" fill="#000" fill-opacity="0.120"/><circle cx="355.90" cy="134.70" r="3.7" fill="#000" fill-opacity="0.120"/><circle cx="355.90" cy="153.70" r="3.7" fill="#000" fill-opacity="0.104"/><circle cx="355.90" cy="172.70" r="3.7" fill="#000" fill-opacity="0.078"/><circle cx="355.90" cy="191.70" r="3.7" fill="#000" fill-opacity="0.044"/><circle cx="355.90" cy="210.70" r="3.7" fill="#000" fill-opacity="0.030"/><circle cx="355.90" cy="229.70" r="3.7" fill="#000" fill-opacity="0.030"/><circle cx="355.90" cy="248.70" r="3.7" fill="#000" fill-opacity="0.030"/><circle cx="355.90" cy="267.70" r="3.7" fill="#000" fill-opacity="0.030"/><circle cx="374.90" cy="-17.30" r="3.7" fill="#000" fill-opacity="0.030"/><circle cx="374.90" cy="1.70" r="3.7" fill="#000" fill-opacity="0.030"/><circle cx="374.90" cy="20.70" r="3.7" fill="#000" fill-opacity="0.030"/><circle cx="374.90" cy="39.70" r="3.7" fill="#000" fill-opacity="0.030"/><circle cx="374.90" cy="58.70" r="3.7" fill="#000" fill-opacity="0.066"/><circle cx="374.90" cy="77.70" r="3.7" fill="#000" fill-opacity="0.104"/><circle cx="374.90" cy="96.70" r="3.7" fill="#800000" fill-opacity="0.224"/><circle cx="374.90" cy="115.70" r="3.7" fill="#c81800" fill-opacity="0.300"/><circle cx="374.90" cy="134.70" r="3.7" fill="#c81800" fill-opacity="0.300"/><circle cx="374.90" cy="153.70" r="3.7" fill="#800000" fill-opacity="0.224"/><circle cx="374.90" cy="172.70" r="3.7" fill="#000" fill-opacity="0.104"/><circle cx="374.90" cy="191.70" r="3.7" fill="#000" fill-opacity="0.066"/><circle cx="374.90" cy="210.70" r="3.7" fill="#000" fill-opacity="0.030"/><circle cx="374.90" cy="229.70" r="3.7" fill="#000" fill-opacity="0.030"/><circle cx="374.90" cy="248.70" r="3.7" fill="#000" fill-opacity="0.030"/><circle cx="374.90" cy="267.70" r="3.7" fill="#000" fill-opacity="0.030"/><circle cx="393.90" cy="-17.30" r="3.7" fill="#000" fill-opacity="0.030"/><circle cx="393.90" cy="1.70" r="3.7" fill="#000" fill-opacity="0.030"/><circle cx="393.90" cy="20.70" r="3.7" fill="#000" fill-opacity="0.030"/><circle cx="393.90" cy="39.70" r="3.7" fill="#000" fill-opacity="0.035"/><circle cx="393.90" cy="58.70" r="3.7" fill="#000" fill-opacity="0.078"/><circle cx="393.90" cy="77.70" r="3.7" fill="#000" fill-opacity="0.120"/><circle cx="393.90" cy="96.70" r="3.7" fill="#c81800" fill-opacity="0.300"/><circle cx="393.90" cy="115.70" r="3.7" fill="#c81800" fill-opacity="0.225"/><circle cx="393.90" cy="134.70" r="3.7" fill="#c81800" fill-opacity="0.225"/><circle cx="393.90" cy="153.70" r="3.7" fill="#c81800" fill-opacity="0.300"/><circle cx="393.90" cy="172.70" r="3.7" fill="#000" fill-opacity="0.120"/><circle cx="393.90" cy="191.70" r="3.7" fill="#000" fill-opacity="0.078"/><circle cx="393.90" cy="210.70" r="3.7" fill="#000" fill-opacity="0.035"/><circle cx="393.90" cy="229.70" r="3.7" fill="#000" fill-opacity="0.030"/><circle cx="393.90" cy="248.70" r="3.7" fill="#000" fill-opacity="0.030"/><circle cx="393.90" cy="267.70" r="3.7" fill="#000" fill-opacity="0.030"/><circle cx="412.90" cy="-17.30" r="3.7" fill="#000" fill-opacity="0.030"/><circle cx="412.90" cy="1.70" r="3.7" fill="#000" fill-opacity="0.030"/><circle cx="412.90" cy="20.70" r="3.7" fill="#000" fill-opacity="0.030"/><circle cx="412.90" cy="39.70" r="3.7" fill="#000" fill-opacity="0.035"/><circle cx="412.90" cy="58.70" r="3.7" fill="#000" fill-opacity="0.078"/><circle cx="412.90" cy="77.70" r="3.7" fill="#000" fill-opacity="0.120"/><circle cx="412.90" cy="96.70" r="3.7" fill="#c81800" fill-opacity="0.300"/><circle cx="412.90" cy="115.70" r="3.7" fill="#c81800" fill-opacity="0.225"/><circle cx="412.90" cy="134.70" r="3.7" fill="#c81800" fill-opacity="0.225"/><circle cx="412.90" cy="153.70" r="3.7" fill="#c81800" fill-opacity="0.300"/><circle cx="412.90" cy="172.70" r="3.7" fill="#000" fill-opacity="0.120"/><circle cx="412.90" cy="191.70" r="3.7" fill="#000" fill-opacity="0.078"/><circle cx="412.90" cy="210.70" r="3.7" fill="#000" fill-opacity="0.035"/><circle cx="412.90" cy="229.70" r="3.7" fill="#000" fill-opacity="0.030"/><circle cx="412.90" cy="248.70" r="3.7" fill="#000" fill-opacity="0.030"/><circle cx="412.90" cy="267.70" r="3.7" fill="#000" fill-opacity="0.030"/><circle cx="431.90" cy="-17.30" r="3.7" fill="#000" fill-opacity="0.030"/><circle cx="431.90" cy="1.70" r="3.7" fill="#000" fill-opacity="0.030"/><circle cx="431.90" cy="20.70" r="3.7" fill="#000" fill-opacity="0.030"/><circle cx="431.90" cy="39.70" r="3.7" fill="#000" fill-opacity="0.030"/><circle cx="431.90" cy="58.70" r="3.7" fill="#000" fill-opacity="0.066"/><circle cx="431.90" cy="77.70" r="3.7" fill="#000" fill-opacity="0.104"/><circle cx="431.90" cy="96.70" r="3.7" fill="#800000" fill-opacity="0.224"/><circle cx="431.90" cy="115.70" r="3.7" fill="#c81800" fill-opacity="0.300"/><circle cx="431.90" cy="134.70" r="3.7" fill="#c81800" fill-opacity="0.300"/><circle cx="431.90" cy="153.70" r="3.7" fill="#800000" fill-opacity="0.224"/><circle cx="431.90" cy="172.70" r="3.7" fill="#000" fill-opacity="0.104"/><circle cx="431.90" cy="191.70" r="3.7" fill="#000" fill-opacity="0.066"/><circle cx="431.90" cy="210.70" r="3.7" fill="#000" fill-opacity="0.030"/><circle cx="431.90" cy="229.70" r="3.7" fill="#000" fill-opacity="0.030"/><circle cx="431.90" cy="248.70" r="3.7" fill="#000" fill-opacity="0.030"/><circle cx="431.90" cy="267.70" r="3.7" fill="#000" fill-opacity="0.030"/><circle cx="450.90" cy="-17.30" r="3.7" fill="#000" fill-opacity="0.030"/><circle cx="450.90" cy="1.70" r="3.7" fill="#000" fill-opacity="0.030"/><circle cx="450.90" cy="20.70" r="3.7" fill="#000" fill-opacity="0.030"/><circle cx="450.90" cy="39.70" r="3.7" fill="#000" fill-opacity="0.030"/><circle cx="450.90" cy="58.70" r="3.7" fill="#000" fill-opacity="0.044"/><circle cx="450.90" cy="77.70" r="3.7" fill="#000" fill-opacity="0.078"/><circle cx="450.90" cy="96.70" r="3.7" fill="#000" fill-opacity="0.104"/><circle cx="450.90" cy="115.70" r="3.7" fill="#000" fill-opacity="0.120"/><circle cx="450.90" cy="134.70" r="3.7" fill="#000" fill-opacity="0.120"/><circle cx="450.90" cy="153.70" r="3.7" fill="#000" fill-opacity="0.104"/><circle cx="450.90" cy="172.70" r="3.7" fill="#000" fill-opacity="0.078"/><circle cx="450.90" cy="191.70" r="3.7" fill="#000" fill-opacity="0.044"/><circle cx="450.90" cy="210.70" r="3.7" fill="#000" fill-opacity="0.030"/><circle cx="450.90" cy="229.70" r="3.7" fill="#000" fill-opacity="0.030"/><circle cx="450.90" cy="248.70" r="3.7" fill="#000" fill-opacity="0.030"/><circle cx="450.90" cy="267.70" r="3.7" fill="#000" fill-opacity="0.030"/><circle cx="469.90" cy="-17.30" r="3.7" fill="#000" fill-opacity="0.030"/><circle cx="469.90" cy="1.70" r="3.7" fill="#000" fill-opacity="0.030"/><circle cx="469.90" cy="20.70" r="3.7" fill="#000" fill-opacity="0.030"/><circle cx="469.90" cy="39.70" r="3.7" fill="#000" fill-opacity="0.030"/><circle cx="469.90" cy="58.70" r="3.7" fill="#000" fill-opacity="0.030"/><circle cx="469.90" cy="77.70" r="3.7" fill="#000" fill-opacity="0.044"/><circle cx="469.90" cy="96.70" r="3.7" fill="#000" fill-opacity="0.066"/><circle cx="469.90" cy="115.70" r="3.7" fill="#000" fill-opacity="0.078"/><circle cx="469.90" cy="134.70" r="3.7" fill="#000" fill-opacity="0.078"/><circle cx="469.90" cy="153.70" r="3.7" fill="#000" fill-opacity="0.066"/><circle cx="469.90" cy="172.70" r="3.7" fill="#000" fill-opacity="0.044"/><circle cx="469.90" cy="191.70" r="3.7" fill="#000" fill-opacity="0.030"/><circle cx="469.90" cy="210.70" r="3.7" fill="#000" fill-opacity="0.030"/><circle cx="469.90" cy="229.70" r="3.7" fill="#000" fill-opacity="0.030"/><circle cx="469.90" cy="248.70" r="3.7" fill="#000" fill-opacity="0.030"/><circle cx="469.90" cy="267.70" r="3.7" fill="#000" fill-opacity="0.030"/><circle cx="488.90" cy="-17.30" r="3.7" fill="#000" fill-opacity="0.030"/><circle cx="488.90" cy="1.70" r="3.7" fill="#000" fill-opacity="0.030"/><circle cx="488.90" cy="20.70" r="3.7" fill="#000" fill-opacity="0.030"/><circle cx="488.90" cy="39.70" r="3.7" fill="#000" fill-opacity="0.030"/><circle cx="488.90" cy="58.70" r="3.7" fill="#000" fill-opacity="0.030"/><circle cx="488.90" cy="77.70" r="3.7" fill="#000" fill-opacity="0.030"/><circle cx="488.90" cy="96.70" r="3.7" fill="#000" fill-opacity="0.030"/><circle cx="488.90" cy="115.70" r="3.7" fill="#000" fill-opacity="0.035"/><circle cx="488.90" cy="134.70" r="3.7" fill="#000" fill-opacity="0.035"/><circle cx="488.90" cy="153.70" r="3.7" fill="#000" fill-opacity="0.030"/><circle cx="488.90" cy="172.70" r="3.7" fill="#000" fill-opacity="0.030"/><circle cx="488.90" cy="191.70" r="3.7" fill="#000" fill-opacity="0.030"/><circle cx="488.90" cy="210.70" r="3.7" fill="#000" fill-opacity="0.030"/><circle cx="488.90" cy="229.70" r="3.7" fill="#000" fill-opacity="0.030"/><circle cx="488.90" cy="248.70" r="3.7" fill="#000" fill-opacity="0.030"/><circle cx="488.90" cy="267.70" r="3.7" fill="#000" fill-opacity="0.030"/><circle cx="507.90" cy="-17.30" r="3.7" fill="#000" fill-opacity="0.030"/><circle cx="507.90" cy="1.70" r="3.7" fill="#000" fill-opacity="0.030"/><circle cx="507.90" cy="20.70" r="3.7" fill="#000" fill-opacity="0.030"/><circle cx="507.90" cy="39.70" r="3.7" fill="#000" fill-opacity="0.030"/><circle cx="507.90" cy="58.70" r="3.7" fill="#000" fill-opacity="0.030"/><circle cx="507.90" cy="77.70" r="3.7" fill="#000" fill-opacity="0.030"/><circle cx="507.90" cy="96.70" r="3.7" fill="#000" fill-opacity="0.030"/><circle cx="507.90" cy="115.70" r="3.7" fill="#000" fill-opacity="0.030"/><circle cx="507.90" cy="134.70" r="3.7" fill="#000" fill-opacity="0.030"/><circle cx="507.90" cy="153.70" r="3.7" fill="#000" fill-opacity="0.030"/><circle cx="507.90" cy="172.70" r="3.7" fill="#000" fill-opacity="0.030"/><circle cx="507.90" cy="191.70" r="3.7" fill="#000" fill-opacity="0.030"/><circle cx="507.90" cy="210.70" r="3.7" fill="#000" fill-opacity="0.030"/><circle cx="507.90" cy="229.70" r="3.7" fill="#000" fill-opacity="0.030"/><circle cx="507.90" cy="248.70" r="3.7" fill="#000" fill-opacity="0.030"/><circle cx="507.90" cy="267.70" r="3.7" fill="#000" fill-opacity="0.030"/><circle cx="526.90" cy="-17.30" r="3.7" fill="#000" fill-opacity="0.030"/><circle cx="526.90" cy="1.70" r="3.7" fill="#000" fill-opacity="0.030"/><circle cx="526.90" cy="20.70" r="3.7" fill="#000" fill-opacity="0.030"/><circle cx="526.90" cy="39.70" r="3.7" fill="#000" fill-opacity="0.030"/><circle cx="526.90" cy="58.70" r="3.7" fill="#000" fill-opacity="0.030"/><circle cx="526.90" cy="77.70" r="3.7" fill="#000" fill-opacity="0.030"/><circle cx="526.90" cy="96.70" r="3.7" fill="#000" fill-opacity="0.030"/><circle cx="526.90" cy="115.70" r="3.7" fill="#000" fill-opacity="0.030"/><circle cx="526.90" cy="134.70" r="3.7" fill="#000" fill-opacity="0.030"/><circle cx="526.90" cy="153.70" r="3.7" fill="#000" fill-opacity="0.030"/><circle cx="526.90" cy="172.70" r="3.7" fill="#000" fill-opacity="0.030"/><circle cx="526.90" cy="191.70" r="3.7" fill="#000" fill-opacity="0.030"/><circle cx="526.90" cy="210.70" r="3.7" fill="#000" fill-opacity="0.030"/><circle cx="526.90" cy="229.70" r="3.7" fill="#000" fill-opacity="0.030"/><circle cx="526.90" cy="248.70" r="3.7" fill="#000" fill-opacity="0.030"/><circle cx="526.90" cy="267.70" r="3.7" fill="#000" fill-opacity="0.030"/><circle cx="545.90" cy="-17.30" r="3.7" fill="#000" fill-opacity="0.030"/><circle cx="545.90" cy="1.70" r="3.7" fill="#000" fill-opacity="0.030"/><circle cx="545.90" cy="20.70" r="3.7" fill="#000" fill-opacity="0.030"/><circle cx="545.90" cy="39.70" r="3.7" fill="#000" fill-opacity="0.030"/><circle cx="545.90" cy="58.70" r="3.7" fill="#000" fill-opacity="0.030"/><circle cx="545.90" cy="77.70" r="3.7" fill="#000" fill-opacity="0.030"/><circle cx="545.90" cy="96.70" r="3.7" fill="#000" fill-opacity="0.030"/><circle cx="545.90" cy="115.70" r="3.7" fill="#000" fill-opacity="0.030"/><circle cx="545.90" cy="134.70" r="3.7" fill="#000" fill-opacity="0.030"/><circle cx="545.90" cy="153.70" r="3.7" fill="#000" fill-opacity="0.030"/><circle cx="545.90" cy="172.70" r="3.7" fill="#000" fill-opacity="0.030"/><circle cx="545.90" cy="191.70" r="3.7" fill="#000" fill-opacity="0.030"/><circle cx="545.90" cy="210.70" r="3.7" fill="#000" fill-opacity="0.030"/><circle cx="545.90" cy="229.70" r="3.7" fill="#000" fill-opacity="0.030"/><circle cx="545.90" cy="248.70" r="3.7" fill="#000" fill-opacity="0.030"/><circle cx="545.90" cy="267.70" r="3.7" fill="#000" fill-opacity="0.030"/></g>
<rect x="293" y="14.5" width="220.8" height="221" fill="none" stroke="#111" stroke-width="1.1"/>
<circle cx="403.3" cy="125.3" r="84.6" fill="none" stroke="#ffdcd4" stroke-width="1.8" stroke-dasharray="4.9 2.483" stroke-dashoffset="4.18"/>
<path d="M430.90,125.20 L430.90,125.68 L430.88,126.16 L430.86,126.64 L430.83,127.12 L430.79,127.60 L430.75,128.07 L430.69,128.55 L430.61,129.02 L430.52,129.49 L430.38,129.96 L430.20,130.41 L429.96,130.85 L429.63,131.26 L429.24,131.64 L428.79,132.00 L428.34,132.35 L427.94,132.70 L427.67,133.08 L427.54,133.51 L427.55,133.99 L427.66,134.51 L427.81,135.06 L427.95,135.62 L428.03,136.16 L428.03,136.68 L427.96,137.18 L427.82,137.64 L427.64,138.09 L427.44,138.52 L427.21,138.95 L426.97,139.36 L426.72,139.77 L426.46,140.17 L426.19,140.57 L425.90,140.96 L425.60,141.33 L425.27,141.68 L424.91,142.00 L424.51,142.30 L424.08,142.55 L423.62,142.77 L423.15,142.98 L422.69,143.19 L422.28,143.43 L421.93,143.73 L421.63,144.08 L421.39,144.49 L421.18,144.95 L420.97,145.42 L420.75,145.88 L420.50,146.31 L420.20,146.71 L419.88,147.07 L419.53,147.40 L419.16,147.70 L418.77,147.99 L418.37,148.26 L417.97,148.52 L417.56,148.77 L417.15,149.01 L416.72,149.24 L416.29,149.44 L415.84,149.62 L415.38,149.76 L414.88,149.83 L414.36,149.83 L413.82,149.75 L413.26,149.61 L412.71,149.46 L412.19,149.35 L411.71,149.34 L411.28,149.47 L410.90,149.74 L410.55,150.14 L410.20,150.59 L409.84,151.04 L409.46,151.43 L409.05,151.76 L408.61,152.00 L408.16,152.18 L407.69,152.32 L407.22,152.41 L406.75,152.49 L406.27,152.55 L405.80,152.59 L405.32,152.63 L404.84,152.66 L404.36,152.68 L403.88,152.70 L403.40,152.70 L402.92,152.70 L402.44,152.68 L401.96,152.66 L401.48,152.63 L401.00,152.59 L400.53,152.55 L400.05,152.49 L399.58,152.41 L399.11,152.32 L398.64,152.18 L398.19,152.00 L397.75,151.76 L397.34,151.43 L396.96,151.04 L396.60,150.59 L396.25,150.14 L395.90,149.74 L395.52,149.47 L395.09,149.34 L394.61,149.35 L394.09,149.46 L393.54,149.61 L392.98,149.75 L392.44,149.83 L391.92,149.83 L391.42,149.76 L390.96,149.62 L390.51,149.44 L390.08,149.24 L389.65,149.01 L389.24,148.77 L388.83,148.52 L388.43,148.26 L388.03,147.99 L387.64,147.70 L387.27,147.40 L386.92,147.07 L386.60,146.71 L386.30,146.31 L386.05,145.88 L385.83,145.42 L385.62,144.95 L385.41,144.49 L385.17,144.08 L384.87,143.73 L384.52,143.43 L384.11,143.19 L383.65,142.98 L383.18,142.77 L382.72,142.55 L382.29,142.30 L381.89,142.00 L381.53,141.68 L381.20,141.33 L380.90,140.96 L380.61,140.57 L380.34,140.17 L380.08,139.77 L379.83,139.36 L379.59,138.95 L379.36,138.52 L379.16,138.09 L378.98,137.64 L378.84,137.18 L378.77,136.68 L378.77,136.16 L378.85,135.62 L378.99,135.06 L379.14,134.51 L379.25,133.99 L379.26,133.51 L379.13,133.08 L378.86,132.70 L378.46,132.35 L378.01,132.00 L377.56,131.64 L377.17,131.26 L376.84,130.85 L376.60,130.41 L376.42,129.96 L376.28,129.49 L376.19,129.02 L376.11,128.55 L376.05,128.07 L376.01,127.60 L375.97,127.12 L375.94,126.64 L375.92,126.16 L375.90,125.68 L375.90,125.20 L375.90,124.72 L375.92,124.24 L375.94,123.76 L375.97,123.28 L376.01,122.80 L376.05,122.33 L376.11,121.85 L376.19,121.38 L376.28,120.91 L376.42,120.44 L376.60,119.99 L376.84,119.55 L377.17,119.14 L377.56,118.76 L378.01,118.40 L378.46,118.05 L378.86,117.70 L379.13,117.32 L379.26,116.89 L379.25,116.41 L379.14,115.89 L378.99,115.34 L378.85,114.78 L378.77,114.24 L378.77,113.72 L378.84,113.22 L378.98,112.76 L379.16,112.31 L379.36,111.88 L379.59,111.45 L379.83,111.04 L380.08,110.63 L380.34,110.23 L380.61,109.83 L380.90,109.44 L381.20,109.07 L381.53,108.72 L381.89,108.40 L382.29,108.10 L382.72,107.85 L383.18,107.63 L383.65,107.42 L384.11,107.21 L384.52,106.97 L384.87,106.67 L385.17,106.32 L385.41,105.91 L385.62,105.45 L385.83,104.98 L386.05,104.52 L386.30,104.09 L386.60,103.69 L386.92,103.33 L387.27,103.00 L387.64,102.70 L388.03,102.41 L388.43,102.14 L388.83,101.88 L389.24,101.63 L389.65,101.39 L390.08,101.16 L390.51,100.96 L390.96,100.78 L391.42,100.64 L391.92,100.57 L392.44,100.57 L392.98,100.65 L393.54,100.79 L394.09,100.94 L394.61,101.05 L395.09,101.06 L395.52,100.93 L395.90,100.66 L396.25,100.26 L396.60,99.81 L396.96,99.36 L397.34,98.97 L397.75,98.64 L398.19,98.40 L398.64,98.22 L399.11,98.08 L399.58,97.99 L400.05,97.91 L400.53,97.85 L401.00,97.81 L401.48,97.77 L401.96,97.74 L402.44,97.72 L402.92,97.70 L403.40,97.70 L403.88,97.70 L404.36,97.72 L404.84,97.74 L405.32,97.77 L405.80,97.81 L406.27,97.85 L406.75,97.91 L407.22,97.99 L407.69,98.08 L408.16,98.22 L408.61,98.40 L409.05,98.64 L409.46,98.97 L409.84,99.36 L410.20,99.81 L410.55,100.26 L410.90,100.66 L411.28,100.93 L411.71,101.06 L412.19,101.05 L412.71,100.94 L413.26,100.79 L413.82,100.65 L414.36,100.57 L414.88,100.57 L415.38,100.64 L415.84,100.78 L416.29,100.96 L416.72,101.16 L417.15,101.39 L417.56,101.63 L417.97,101.88 L418.37,102.14 L418.77,102.41 L419.16,102.70 L419.53,103.00 L419.88,103.33 L420.20,103.69 L420.50,104.09 L420.75,104.52 L420.97,104.98 L421.18,105.45 L421.39,105.91 L421.63,106.32 L421.93,106.67 L422.28,106.97 L422.69,107.21 L423.15,107.42 L423.62,107.63 L424.08,107.85 L424.51,108.10 L424.91,108.40 L425.27,108.72 L425.60,109.07 L425.90,109.44 L426.19,109.83 L426.46,110.23 L426.72,110.63 L426.97,111.04 L427.21,111.45 L427.44,111.88 L427.64,112.31 L427.82,112.76 L427.96,113.22 L428.03,113.72 L428.03,114.24 L427.95,114.78 L427.81,115.34 L427.66,115.89 L427.55,116.41 L427.54,116.89 L427.67,117.32 L427.94,117.70 L428.34,118.05 L428.79,118.40 L429.24,118.76 L429.63,119.14 L429.96,119.55 L430.20,119.99 L430.38,120.44 L430.52,120.91 L430.61,121.38 L430.69,121.85 L430.75,122.33 L430.79,122.80 L430.83,123.28 L430.86,123.76 L430.88,124.24 L430.90,124.72Z" fill="none" stroke="#fff8c8" stroke-width="2"/>
<circle cx="394.3" cy="134.4" r="2.7" fill="#2466d8" stroke="#1a4fb0" stroke-width="0.5"/>
<text x="403.6" y="37.7" fill="#fff" font-size="7.3" text-anchor="middle" stroke="#fff">170 K</text>
<text x="403.2" y="94.8" fill="#fff" font-size="7.3" text-anchor="middle" stroke="#fff">273 K</text>
<text x="295.2" y="24.2" fill="#fff" class="b" font-size="9.4" stroke="#fff">b</text>
<rect x="301.1" y="182" width="14.7" height="43" fill="url(#gcb)"/>
<text x="300.6" y="179.8" fill="#fff" font-size="7" stroke="#fff">T (K)</text>
<text x="319.2" y="184.7" fill="#fff" font-size="7.1" stroke="#fff">300</text>
<text x="319.2" y="207.7" fill="#fff" font-size="7.1" stroke="#fff">200</text>
<text x="319.2" y="231.4" fill="#fff" font-size="7.1" stroke="#fff">100</text>
<line x1="190" y1="71.4" x2="293" y2="14.6" stroke="#000" stroke-width="1.5"/>
<line x1="190" y1="179" x2="293" y2="235.2" stroke="#000" stroke-width="1.5"/>
<g clip-path="url(#cpa)"><line x1="190" y1="71.4" x2="293" y2="14.6" stroke="#fff" stroke-width="1.3"/><line x1="190" y1="179" x2="293" y2="235.2" stroke="#fff" stroke-width="1.3"/></g>
<g stroke="#000" stroke-width="1.15"><rect x="25.6" y="282.5" width="221.0" height="221.10000000000002" fill="none"/><line x1="43.90" y1="503.6" x2="43.90" y2="500.1"/><line x1="43.90" y1="282.5" x2="43.90" y2="286.0"/><line x1="74.62" y1="503.6" x2="74.62" y2="501.1"/><line x1="74.62" y1="282.5" x2="74.62" y2="285.0"/><line x1="105.33" y1="503.6" x2="105.33" y2="500.1"/><line x1="105.33" y1="282.5" x2="105.33" y2="286.0"/><line x1="136.05" y1="503.6" x2="136.05" y2="501.1"/><line x1="136.05" y1="282.5" x2="136.05" y2="285.0"/><line x1="166.77" y1="503.6" x2="166.77" y2="500.1"/><line x1="166.77" y1="282.5" x2="166.77" y2="286.0"/><line x1="197.49" y1="503.6" x2="197.49" y2="501.1"/><line x1="197.49" y1="282.5" x2="197.49" y2="285.0"/><line x1="228.20" y1="503.6" x2="228.20" y2="500.1"/><line x1="228.20" y1="282.5" x2="228.20" y2="286.0"/><line x1="25.6" y1="488.00" x2="29.6" y2="488.00"/><line x1="246.6" y1="488.00" x2="242.6" y2="488.00"/><line x1="25.6" y1="472.19" x2="28.1" y2="472.19"/><line x1="246.6" y1="472.19" x2="244.1" y2="472.19"/><line x1="25.6" y1="456.38" x2="28.1" y2="456.38"/><line x1="246.6" y1="456.38" x2="244.1" y2="456.38"/><line x1="25.6" y1="440.56" x2="28.1" y2="440.56"/><line x1="246.6" y1="440.56" x2="244.1" y2="440.56"/><line x1="25.6" y1="424.75" x2="29.6" y2="424.75"/><line x1="246.6" y1="424.75" x2="242.6" y2="424.75"/><line x1="25.6" y1="408.94" x2="28.1" y2="408.94"/><line x1="246.6" y1="408.94" x2="244.1" y2="408.94"/><line x1="25.6" y1="393.12" x2="28.1" y2="393.12"/><line x1="246.6" y1="393.12" x2="244.1" y2="393.12"/><line x1="25.6" y1="377.31" x2="28.1" y2="377.31"/><line x1="246.6" y1="377.31" x2="244.1" y2="377.31"/><line x1="25.6" y1="361.50" x2="29.6" y2="361.50"/><line x1="246.6" y1="361.50" x2="242.6" y2="361.50"/><line x1="25.6" y1="345.69" x2="28.1" y2="345.69"/><line x1="246.6" y1="345.69" x2="244.1" y2="345.69"/><line x1="25.6" y1="329.88" x2="28.1" y2="329.88"/><line x1="246.6" y1="329.88" x2="244.1" y2="329.88"/><line x1="25.6" y1="314.06" x2="28.1" y2="314.06"/><line x1="246.6" y1="314.06" x2="244.1" y2="314.06"/><line x1="25.6" y1="298.25" x2="29.6" y2="298.25"/><line x1="246.6" y1="298.25" x2="242.6" y2="298.25"/><line x1="25.6" y1="282.44" x2="28.1" y2="282.44"/><line x1="246.6" y1="282.44" x2="244.1" y2="282.44"/></g>
<text x="43.90" y="511.9" font-size="7.1" text-anchor="middle" stroke="#111">0</text>
<text x="105.33" y="511.9" font-size="7.1" text-anchor="middle" stroke="#111">50</text>
<text x="166.77" y="511.9" font-size="7.1" text-anchor="middle" stroke="#111">100</text>
<text x="228.20" y="511.9" font-size="7.1" text-anchor="middle" stroke="#111">150</text>
<text x="22.4" y="490.55" font-size="7.1" text-anchor="end" stroke="#111">100</text>
<text x="22.4" y="427.30" font-size="7.1" text-anchor="end" stroke="#111">200</text>
<text x="22.4" y="364.05" font-size="7.1" text-anchor="end" stroke="#111">300</text>
<text x="22.4" y="300.80" font-size="7.1" text-anchor="end" stroke="#111">400</text>
<text x="136.2" y="522.2" font-size="7.3" text-anchor="middle" stroke="#111">Laser power (mW)</text>
<text transform="translate(5.8,391.6) rotate(-90)" font-size="7.6" text-anchor="middle" stroke="#111">Temperature in central hole (K)</text>
<text x="28.0" y="291.6" class="b" font-size="10" stroke="#111">c</text>
<text x="69.5" y="297.1" class="b" font-size="9.2" stroke="#111">Plateau temperature of sample</text>
<polyline points="43.90,488.00 56.19,456.06 68.47,425.07 80.76,400.40 86.90,389.33 93.05,377.57 99.19,366.56 105.33,358.34 111.48,350.12 117.62,343.79 129.91,334.49 142.20,326.71 154.48,320.83 166.77,315.52 197.49,305.52 228.20,296.73" fill="none" stroke="#d8321e" stroke-width="2.1" stroke-linejoin="round"/>
<g fill="#d8321e"><circle cx="43.90" cy="488.00" r="2.5"/><circle cx="56.19" cy="456.06" r="2.5"/><circle cx="68.47" cy="425.07" r="2.5"/><circle cx="80.76" cy="400.40" r="2.5"/><circle cx="86.90" cy="389.33" r="2.5"/><circle cx="93.05" cy="377.57" r="2.5"/><circle cx="99.19" cy="366.56" r="2.5"/><circle cx="105.33" cy="358.34" r="2.5"/><circle cx="111.48" cy="350.12" r="2.5"/><circle cx="117.62" cy="343.79" r="2.5"/><circle cx="129.91" cy="334.49" r="2.5"/><circle cx="142.20" cy="326.71" r="2.5"/><circle cx="154.48" cy="320.83" r="2.5"/><circle cx="166.77" cy="315.52" r="2.5"/><circle cx="197.49" cy="305.52" r="2.5"/><circle cx="228.20" cy="296.73" r="2.5"/></g>
<polyline points="43.90,488.00 56.19,456.06 68.47,426.65 80.76,402.61 86.90,391.23 93.05,381.42 99.19,373.52 105.33,367.45 111.48,362.45 117.62,359.35 129.91,355.49 142.20,352.46 154.48,351.06 166.77,349.48 197.49,347.27 228.20,345.50" fill="none" stroke="#e9aa1c" stroke-width="2.1" stroke-linejoin="round"/>
<g fill="#e9aa1c"><circle cx="43.90" cy="488.00" r="2.5"/><circle cx="56.19" cy="456.06" r="2.5"/><circle cx="68.47" cy="426.65" r="2.5"/><circle cx="80.76" cy="402.61" r="2.5"/><circle cx="86.90" cy="391.23" r="2.5"/><circle cx="93.05" cy="381.42" r="2.5"/><circle cx="99.19" cy="373.52" r="2.5"/><circle cx="105.33" cy="367.45" r="2.5"/><circle cx="111.48" cy="362.45" r="2.5"/><circle cx="117.62" cy="359.35" r="2.5"/><circle cx="129.91" cy="355.49" r="2.5"/><circle cx="142.20" cy="352.46" r="2.5"/><circle cx="154.48" cy="351.06" r="2.5"/><circle cx="166.77" cy="349.48" r="2.5"/><circle cx="197.49" cy="347.27" r="2.5"/><circle cx="228.20" cy="345.50" r="2.5"/></g>
<polyline points="43.90,488.00 56.19,456.06 68.47,427.28 80.76,406.41 86.90,396.29 93.05,385.85 99.19,377.31 105.33,372.70 111.48,370.29 117.62,368.58 129.91,366.18 142.20,364.16 154.48,363.02 166.77,362.26 197.49,361.25 228.20,360.49" fill="none" stroke="#2d78e2" stroke-width="2.1" stroke-linejoin="round"/>
<g fill="#2d78e2"><circle cx="43.90" cy="488.00" r="2.5"/><circle cx="56.19" cy="456.06" r="2.5"/><circle cx="68.47" cy="427.28" r="2.5"/><circle cx="80.76" cy="406.41" r="2.5"/><circle cx="86.90" cy="396.29" r="2.5"/><circle cx="93.05" cy="385.85" r="2.5"/><circle cx="99.19" cy="377.31" r="2.5"/><circle cx="105.33" cy="372.70" r="2.5"/><circle cx="111.48" cy="370.29" r="2.5"/><circle cx="117.62" cy="368.58" r="2.5"/><circle cx="129.91" cy="366.18" r="2.5"/><circle cx="142.20" cy="364.16" r="2.5"/><circle cx="154.48" cy="363.02" r="2.5"/><circle cx="166.77" cy="362.26" r="2.5"/><circle cx="197.49" cy="361.25" r="2.5"/><circle cx="228.20" cy="360.49" r="2.5"/></g>
<text x="114.1" y="428.9" font-size="7.3" stroke="#111">Sample geometry</text>
<line x1="88.5" y1="436.60" x2="100.3" y2="436.60" stroke="#2d78e2" stroke-width="2"/>
<text x="102.8" y="439.50" font-size="7.35" stroke="#111">2 µm holes / 2 µm spacing</text>
<line x1="88.5" y1="446.75" x2="100.3" y2="446.75" stroke="#e9aa1c" stroke-width="2"/>
<text x="102.8" y="449.65" font-size="7.35" stroke="#111">1 µm holes / 3 µm spacing</text>
<line x1="88.5" y1="456.90" x2="100.3" y2="456.90" stroke="#d8321e" stroke-width="2"/>
<text x="102.8" y="459.80" font-size="7.35" stroke="#111">1 µm holes / 3 µm spacing + graphene</text>
<g stroke="#000" stroke-width="1.15"><rect x="292.8" y="282.6" width="221.09999999999997" height="221.0" fill="none"/><line x1="324.64" y1="503.6" x2="324.64" y2="499.8"/><line x1="356.28" y1="503.6" x2="356.28" y2="501.0"/><line x1="387.92" y1="503.6" x2="387.92" y2="499.8"/><line x1="419.56" y1="503.6" x2="419.56" y2="501.0"/><line x1="451.20" y1="503.6" x2="451.20" y2="499.8"/><line x1="482.84" y1="503.6" x2="482.84" y2="501.0"/><line x1="514.48" y1="503.6" x2="514.48" y2="499.8"/><line x1="292.8" y1="503.60" x2="296.8" y2="503.60"/><line x1="513.9" y1="503.60" x2="509.9" y2="503.60"/><line x1="292.8" y1="477.60" x2="295.3" y2="477.60"/><line x1="513.9" y1="477.60" x2="511.4" y2="477.60"/><line x1="292.8" y1="451.60" x2="296.8" y2="451.60"/><line x1="513.9" y1="451.60" x2="509.9" y2="451.60"/><line x1="292.8" y1="425.60" x2="295.3" y2="425.60"/><line x1="513.9" y1="425.60" x2="511.4" y2="425.60"/><line x1="292.8" y1="399.60" x2="296.8" y2="399.60"/><line x1="513.9" y1="399.60" x2="509.9" y2="399.60"/><line x1="292.8" y1="373.60" x2="295.3" y2="373.60"/><line x1="513.9" y1="373.60" x2="511.4" y2="373.60"/><line x1="292.8" y1="347.60" x2="296.8" y2="347.60"/><line x1="513.9" y1="347.60" x2="509.9" y2="347.60"/><line x1="292.8" y1="321.60" x2="295.3" y2="321.60"/><line x1="513.9" y1="321.60" x2="511.4" y2="321.60"/><line x1="292.8" y1="295.60" x2="296.8" y2="295.60"/><line x1="513.9" y1="295.60" x2="509.9" y2="295.60"/><line x1="313.00" y1="282.6" x2="313.00" y2="285.1"/><line x1="322.60" y1="282.6" x2="322.60" y2="286.1"/><line x1="335.80" y1="282.6" x2="335.80" y2="285.1"/><line x1="357.40" y1="282.6" x2="357.40" y2="286.1"/><line x1="414.30" y1="282.6" x2="414.30" y2="286.1"/></g>
<text x="324.64" y="512.3" font-size="7.1" text-anchor="middle" stroke="#111">50</text>
<text x="387.92" y="512.3" font-size="7.1" text-anchor="middle" stroke="#111">70</text>
<text x="451.20" y="512.3" font-size="7.1" text-anchor="middle" stroke="#111">90</text>
<text x="514.48" y="512.3" font-size="7.1" text-anchor="middle" stroke="#111">110</text>
<text x="290" y="506.15" font-size="7.1" text-anchor="end" stroke="#111">8</text>
<text x="290" y="454.15" font-size="7.1" text-anchor="end" stroke="#111">12</text>
<text x="290" y="402.15" font-size="7.1" text-anchor="end" stroke="#111">16</text>
<text x="290" y="350.15" font-size="7.1" text-anchor="end" stroke="#111">20</text>
<text x="290" y="298.15" font-size="7.1" text-anchor="end" stroke="#111">24</text>
<text x="322.8" y="279.9" font-size="7.1" text-anchor="middle" stroke="#111">280</text>
<text x="357.4" y="279.9" font-size="7.1" text-anchor="middle" stroke="#111">290</text>
<text x="414.3" y="279.9" font-size="7.1" text-anchor="middle" stroke="#111">295</text>
<text x="513.7" y="279.9" font-size="7.1" text-anchor="middle" stroke="#111">300</text>
<text x="403.5" y="268.8" font-size="7.3" text-anchor="middle" stroke="#111">Temperature in central hole (K)</text>
<text x="403.5" y="522.1" font-size="7.3" text-anchor="middle" stroke="#111">Laser power (mW)</text>
<text transform="translate(276.7,391.9) rotate(-90)" font-size="7.25" text-anchor="middle" stroke="#111">Diameter of melted area (µm)</text>
<text x="295.1" y="291" class="b" font-size="8.7" stroke="#111">d</text>
<text x="344.8" y="297.4" class="b" font-size="9.2" stroke="#111">Diameter of area that melts</text>
<path d="M311.51,455.87 L313.67,450.47 L315.84,445.25 L318.00,440.21 L320.17,435.35 L322.33,430.65 L324.50,426.12 L326.66,421.74 L328.83,417.52 L330.99,413.44 L333.16,409.50 L335.32,405.70 L337.49,402.03 L339.65,398.49 L341.82,395.07 L343.98,391.77 L346.15,388.58 L348.31,385.50 L350.47,382.53 L352.64,379.66 L354.80,376.89 L356.97,374.22 L359.13,371.64 L361.30,369.15 L363.46,366.74 L365.63,364.42 L367.79,362.18 L369.96,360.02 L372.12,357.93 L374.29,355.91 L376.45,353.96 L378.62,352.09 L380.78,350.27 L382.95,348.52 L385.11,346.83 L387.28,345.19 L389.44,343.62 L391.60,342.10 L393.77,340.63 L395.93,339.21 L398.10,337.84 L400.26,336.52 L402.43,335.24 L404.59,334.01 L406.76,332.82 L408.92,331.67 L411.09,330.57 L413.25,329.50 L415.42,328.46 L417.58,327.47 L419.75,326.50 L421.91,325.57 L424.08,324.68 L426.24,323.81 L428.41,322.97 L430.57,322.17 L432.73,321.39 L434.90,320.63 L437.06,319.91 L439.23,319.21 L441.39,318.53 L443.56,317.88 L445.72,317.24 L447.89,316.64 L450.05,316.05 L452.22,315.48 L454.38,314.93 L456.55,314.40 L458.71,313.89 L460.88,313.40 L463.04,312.92 L465.21,312.46 L467.37,312.02 L469.54,311.59 L471.70,311.18 L473.86,310.78 L476.03,310.39 L478.19,310.02 L480.36,309.66 L482.52,309.31" fill="none" stroke="#2d78e2" stroke-width="2.1" stroke-linecap="round"/>
<g fill="#2d78e2"><circle cx="311.35" cy="456.80" r="2.5"/><circle cx="324.64" cy="430.80" r="2.5"/><circle cx="340.14" cy="410.00" r="2.5"/><circle cx="355.96" cy="376.20" r="2.5"/><circle cx="387.92" cy="352.80" r="2.5"/><circle cx="419.24" cy="329.40" r="2.5"/><circle cx="450.88" cy="318.35" r="2.5"/><circle cx="482.52" cy="307.82" r="2.5"/></g>
</svg></body></html>
